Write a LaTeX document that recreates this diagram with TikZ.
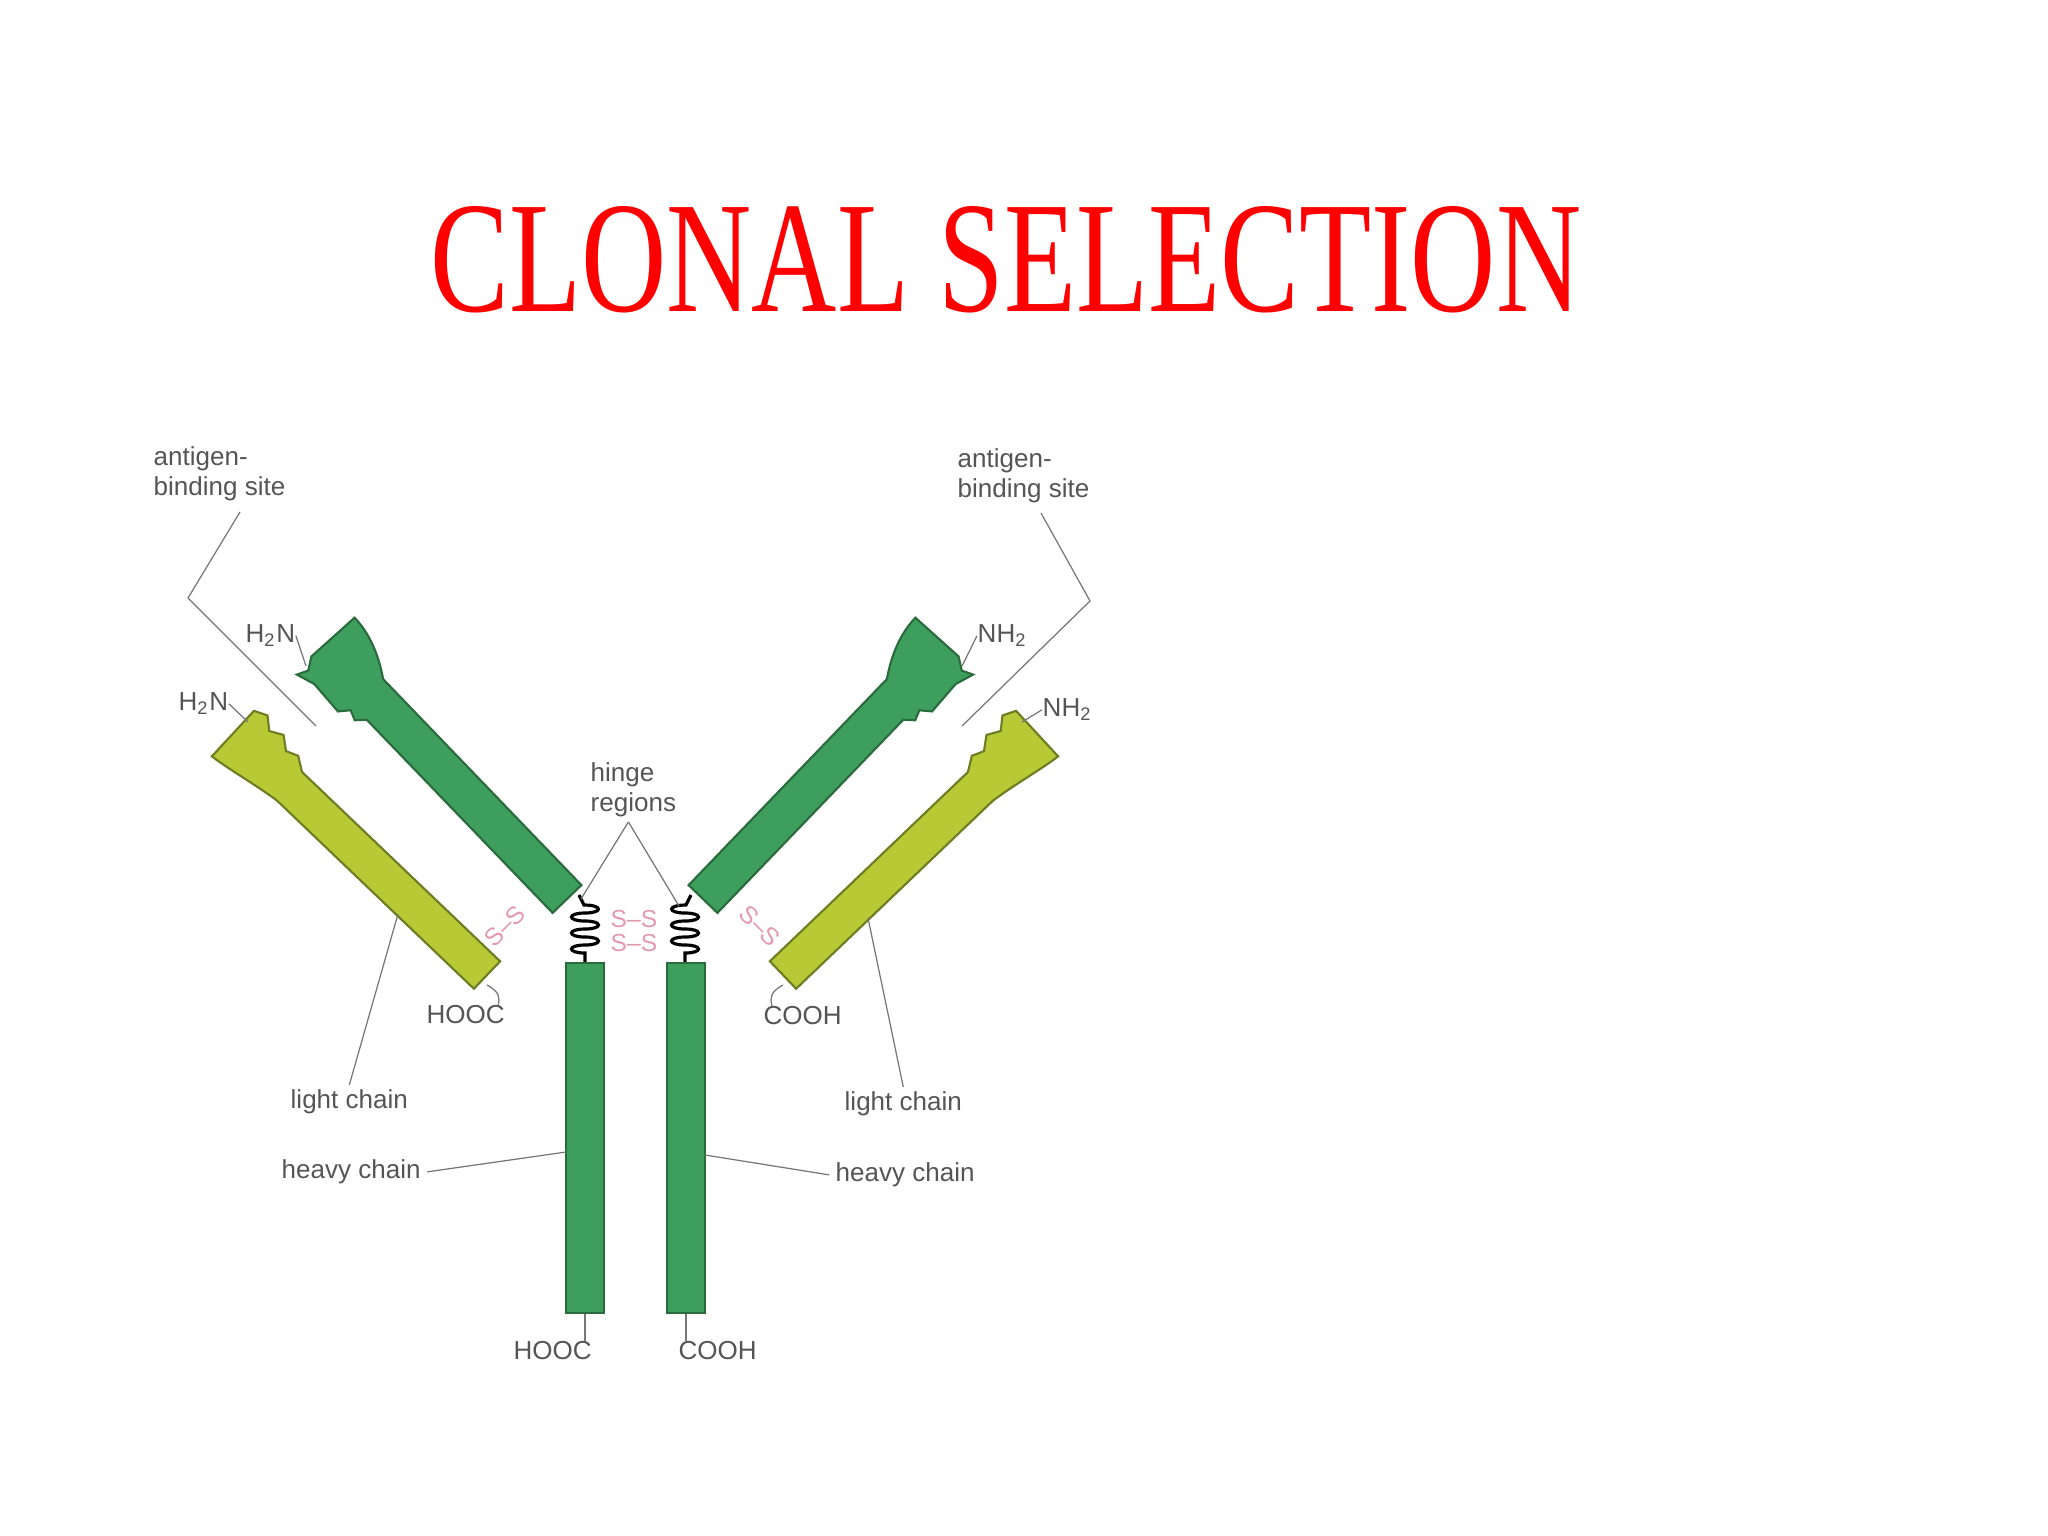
\documentclass[tikz,border=0pt]{standalone}
\usepackage{fontspec}
\setmainfont{Liberation Sans}
\newfontfamily\titlefont{Liberation Serif}
\definecolor{heavyc}{HTML}{3E9E5E}
\definecolor{heavyd}{HTML}{2A6B3E}
\definecolor{lightc}{HTML}{B8C936}
\definecolor{lightd}{HTML}{6E7C22}
\definecolor{labc}{HTML}{555555}
\definecolor{ssc}{HTML}{E39AAE}
\def\heavyarm{(0,-20) -- (268,-20) -- (276,-29) -- (286,-25) -- (294,-35) -- (330,-33) -- (349,-39) -- (344,-28) -- (352,-16) -- (350,42) .. controls (322,42) and (298,28) .. (286,20) -- (0,20) -- cycle}
\def\lightarm{(0,-19) -- (272,-19) .. controls (298,-22) and (330,-30) .. (350,-32) -- (351,30) -- (338,36) -- (326,26) -- (313,33) -- (300,23) -- (288,28) -- (274,19) -- (0,19) -- cycle}
\def\coil{(579,895) -- (584,905) .. controls (603,905) and (603,913) .. (585,913) .. controls (567,913) and (567,921) .. (585,921) .. controls (603,921) and (603,929) .. (585,929) .. controls (567,929) and (567,937) .. (585,937) .. controls (603,937) and (603,945) .. (585,945) .. controls (567,945) and (567,953) .. (585,953) -- (585,962)}
\begin{document}
\begin{tikzpicture}[x=0.01cm,y=-0.01cm,
  lab/.style={text=labc,font=\fontsize{7.4}{8.6}\selectfont,inner sep=0pt,align=left},
  lead/.style={draw=labc!80,line width=0.35pt},
  heavy/.style={fill=heavyc,draw=heavyd,line width=0.6pt},
  light/.style={fill=lightc,draw=lightd,line width=0.6pt},
  stem/.style={fill=heavyc,draw=heavyd,line width=0.6pt,minimum width=0.38cm,minimum height=3.5cm,inner sep=0pt,anchor=north},
  ss/.style={text=ssc,font=\fontsize{7}{8}\selectfont,inner sep=0pt}]
\fill[white] (0,0) rectangle (2048,1536);
\useasboundingbox (0,0) rectangle (2048,1536);
\node[text=red,inner sep=0pt] (title) at (1006,260) {\resizebox{11.5cm}{1.05cm}{\titlefont CLONAL SELECTION}};
% arms, left
\begin{scope}[shift={(567,899)},rotate=133.9] \path[heavy] \heavyarm; \end{scope}
\begin{scope}[shift={(487,975)},rotate=136.3] \path[light] \lightarm; \end{scope}
\draw[black,line width=0.9pt] \coil;
% arms, right (mirror)
\begin{scope}[shift={(1270,0)},xscale=-1]
\begin{scope}[shift={(567,899)},rotate=133.9] \path[heavy] \heavyarm; \end{scope}
\begin{scope}[shift={(487,975)},rotate=136.3] \path[light] \lightarm; \end{scope}
\draw[black,line width=0.9pt] \coil;
\end{scope}
% stems
\node[stem] (stemL) at (585,962) {};
\node[stem] (stemR) at (686,962) {};
% S-S
\node[ss] (ss1) at (634,919) {S--S};
\node[ss] (ss2) at (634,943) {S--S};
\node[ss,rotate=45] (ss3) at (505,926) {S--S};
\node[ss,rotate=-45] (ss4) at (760,926) {S--S};
% labels
\node[lab,anchor=north west] (agL) at (153,446) {antigen-\\binding site};
\node[lab,anchor=north west] (agR) at (957,448) {antigen-\\binding site};
\node[lab,anchor=north west] (h2n1) at (245,624) {H\textsubscript{2}N};
\node[lab,anchor=north west] (h2n2) at (178,692) {H\textsubscript{2}N};
\node[lab,anchor=north west] (nh21) at (977,624) {NH\textsubscript{2}};
\node[lab,anchor=north west] (nh22) at (1042,698) {NH\textsubscript{2}};
\node[lab,anchor=north west] (hinge) at (590,762) {hinge\\regions};
\node[lab,anchor=north west] (hoocL) at (426,1005) {HOOC};
\node[lab,anchor=north west] (coohR) at (763,1006) {COOH};
\node[lab,anchor=north west] (lcL) at (290,1089) {light chain};
\node[lab,anchor=north west] (lcR) at (844,1091) {light chain};
\node[lab,anchor=north west] (hcL) at (281,1159) {heavy chain};
\node[lab,anchor=north west] (hcR) at (835,1162) {heavy chain};
\node[lab,anchor=north west] (hoocB) at (513,1341) {HOOC};
\node[lab,anchor=north west] (coohB) at (678,1341) {COOH};
% leaders
\draw[lead] (240,512) -- (188,598) -- (316,726);
\draw[lead] (1041,513) -- (1090,601) -- (962,726);
\draw[lead] (hinge.south) ++(-5,4) coordinate (hg) -- (581,899);
\draw[lead] (hg) -- (679,906);
\draw[lead] (h2n1.east) -- (306,666);
\draw[lead] (h2n2.east) -- (248,722);
\draw[lead] (nh21.west) -- (962,666);
\draw[lead] (nh22.west) -- (1022,722);
\draw[lead] (lcL.north) ++(0,-4) -- (398,914);
\draw[lead] (lcR.north) ++(0,-4) -- (868,918);
\draw[lead] (hcL.east) ++(6,0) -- (566,1152);
\draw[lead] (hcR.west) ++(-6,0) -- (705,1155);
\draw[lead] (stemL.south) -- (hoocB.north -| stemL.south);
\draw[lead] (stemR.south) -- (coohB.north -| stemR.south);
\draw[lead] (487,985) .. controls (500,992) and (500,998) .. (498,1006);
\draw[lead] (783,985) .. controls (770,992) and (770,998) .. (772,1006);
\end{tikzpicture}
\end{document}
